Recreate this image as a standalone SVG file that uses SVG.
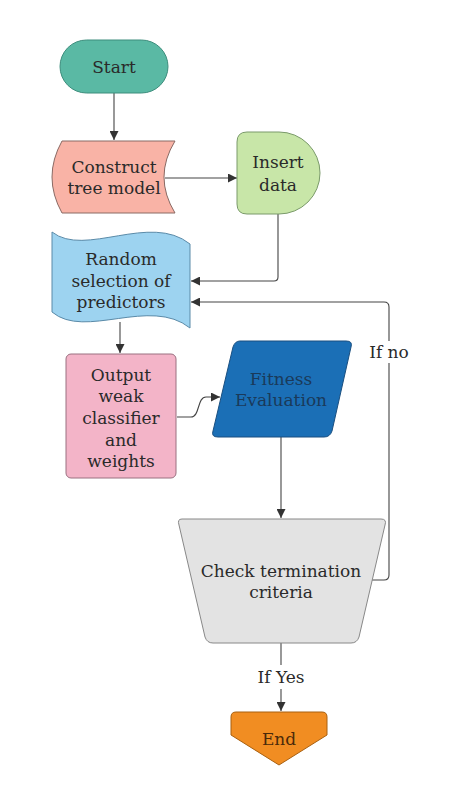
<svg xmlns="http://www.w3.org/2000/svg" width="474" height="794" viewBox="0 0 474 794">
<style>
.t{font-family:"DejaVu Serif","Liberation Serif",serif;font-size:17px;fill:#2a2a2a;text-anchor:middle;dominant-baseline:central}
.c{fill:none;stroke:#444;stroke-width:1.1}
.n{stroke-width:1}
</style>
<defs>
<marker id="ah" viewBox="0 0 10 10" refX="10" refY="5" markerWidth="9" markerHeight="9" markerUnits="userSpaceOnUse" orient="auto">
<path d="M0,0 L10,5 L0,10 Z" fill="#333"/>
</marker>
</defs>
<rect width="474" height="794" fill="#fff"/>
<g id="connectors">
<path class="c" d="M114,93 V140" marker-end="url(#ah)"/>
<path class="c" d="M165,178 H237" marker-end="url(#ah)"/>
<path class="c" d="M278,214 V277 Q278,281 274,281 H191" marker-end="url(#ah)"/>
<path class="c" d="M370,580 H384 Q389,580 389,575 V307 Q389,302 384,302 H191" marker-end="url(#ah)"/>
<path class="c" d="M120,322 V353" marker-end="url(#ah)"/>
<path class="c" d="M177,417 H191 C200,417 197,397 206,397 H220" marker-end="url(#ah)"/>
<path class="c" d="M281,437 V518" marker-end="url(#ah)"/>
<path class="c" d="M281,643 V665"/>
<path class="c" d="M281,689 V711" marker-end="url(#ah)"/>
<rect x="366" y="341" width="46" height="22" fill="#fff"/>
<text class="t" x="389" y="352">If no</text>
<text class="t" x="281" y="677">If Yes</text>
</g>
<g id="start">
<rect class="n" x="60" y="40" width="108" height="53" rx="26.5" fill="#5ab9a4" stroke="#3d8d7c"/>
<text class="t" x="114" y="67">Start</text>
</g>
<g id="construct">
<path class="n" d="M62,141 H175 Q153,177 175,213 H62 Q42,177 62,141 Z" fill="#f9b3a6" stroke="#8a6a64"/>
<text class="t" x="114" y="167">Construct</text>
<text class="t" x="114" y="188">tree model</text>
</g>
<g id="insert">
<path class="n" d="M247,132 H279 A41,41 0 0 1 279,214 H247 Q237,214 237,204 V142 Q237,132 247,132 Z" fill="#c8e6a8" stroke="#7a9a6a"/>
<text class="t" x="278" y="162">Insert</text>
<text class="t" x="278" y="185">data</text>
</g>
<g id="random">
<path class="n" d="M52,232 C85,258 150,212 190,244 V328 C150,296 85,340 52,312 Z" fill="#9dd3f0" stroke="#5a8aa8"/>
<text class="t" x="121" y="259">Random</text>
<text class="t" x="121" y="281">selection of</text>
<text class="t" x="121" y="302">predictors</text>
</g>
<g id="output">
<rect class="n" x="66" y="354" width="110" height="124" rx="5" fill="#f3b4c8" stroke="#9a7080"/>
<text class="t" x="121" y="375">Output</text>
<text class="t" x="121" y="396">weak</text>
<text class="t" x="121" y="418">classifier</text>
<text class="t" x="121" y="440">and</text>
<text class="t" x="121" y="461">weights</text>
</g>
<g id="fitness">
<path class="n" d="M240,341 H346 Q353,341 351,347 L332,431 Q330,437 324,437 H218 Q211,437 213,431 L233,347 Q235,341 240,341 Z" fill="#1b6fb6" stroke="#1a4f80"/>
<text class="t" x="281" y="379" style="fill:#1a3a5a">Fitness</text>
<text class="t" x="281" y="400" style="fill:#1a3a5a">Evaluation</text>
</g>
<g id="check">
<path class="n" d="M182,519 H381 Q387,519 385,525 L359,637 Q357,643 351,643 H213 Q207,643 205,637 L179,525 Q177,519 182,519 Z" fill="#e3e3e3" stroke="#888"/>
<text class="t" x="281" y="571">Check termination</text>
<text class="t" x="281" y="592">criteria</text>
</g>
<g id="end">
<path class="n" d="M236,712 H322 Q327,712 327,717 V735 L279,765 L231,735 V717 Q231,712 236,712 Z" fill="#f18d22" stroke="#a86010"/>
<text class="t" x="279" y="739" style="fill:#4a2a0a">End</text>
</g>
</svg>
